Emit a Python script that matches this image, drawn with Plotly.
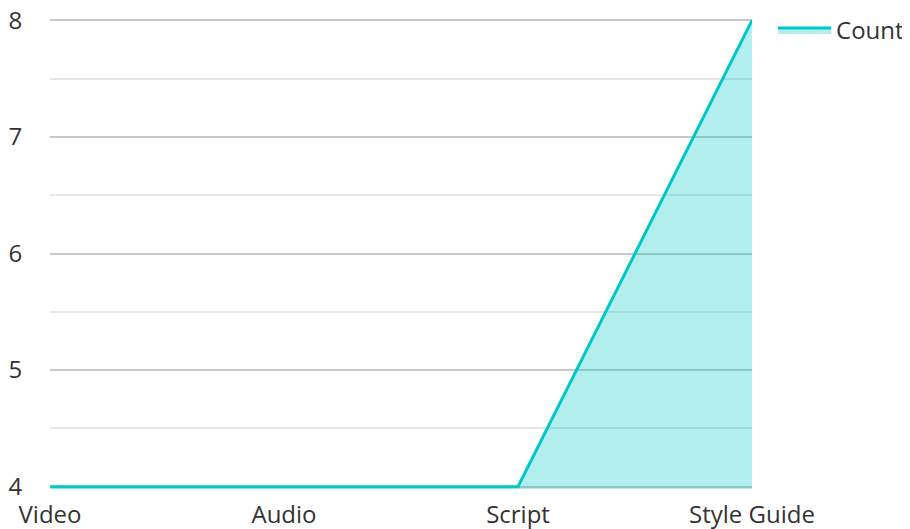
import plotly.graph_objects as go

categories = ["Video", "Audio", "Script", "Style Guide"]
counts = [4, 4, 4, 8]
series_name = "Count"

fig = go.Figure()
fig.add_trace(go.Scatter(
    x=categories, y=counts, name=series_name, mode="lines",
    line=dict(color="#00c8c8", width=3),
    fill="tozeroy", fillcolor="rgba(0,200,200,0.3)",
))

# page body has an 8px default margin; margins below compensate for it
fig.update_layout(
    width=910, height=529,
    margin=dict(l=42, r=166, t=10, b=48, autoexpand=False),
    paper_bgcolor="white", plot_bgcolor="white",
    font=dict(family="Open Sans", size=24, color="#333333"),
    showlegend=True,
    legend=dict(x=1.03, xanchor="left", y=1.0, yref="container", yanchor="top", itemwidth=53,
                font=dict(size=24, color="#333333"), bgcolor="rgba(0,0,0,0)"),
    xaxis=dict(range=[0, 3], showgrid=False, zeroline=False, showline=False, automargin=False,
               ticks="outside", ticklen=4, tickcolor="rgba(0,0,0,0)"),
    yaxis=dict(range=[3.98, 8.02], tickvals=[4, 5, 6, 7, 8], showgrid=True,
               gridcolor="#c8c8c8", gridwidth=1.5,
               zeroline=False, showline=False, automargin=False, ticklabeloverflow="allow",
               ticks="outside", ticklen=22, tickcolor="rgba(0,0,0,0)",
               minor=dict(tickvals=[4.5, 5.5, 6.5, 7.5], showgrid=True,
                          gridcolor="#e6e6e6", gridwidth=1.5)),
)

fig.write_html("out.html")
